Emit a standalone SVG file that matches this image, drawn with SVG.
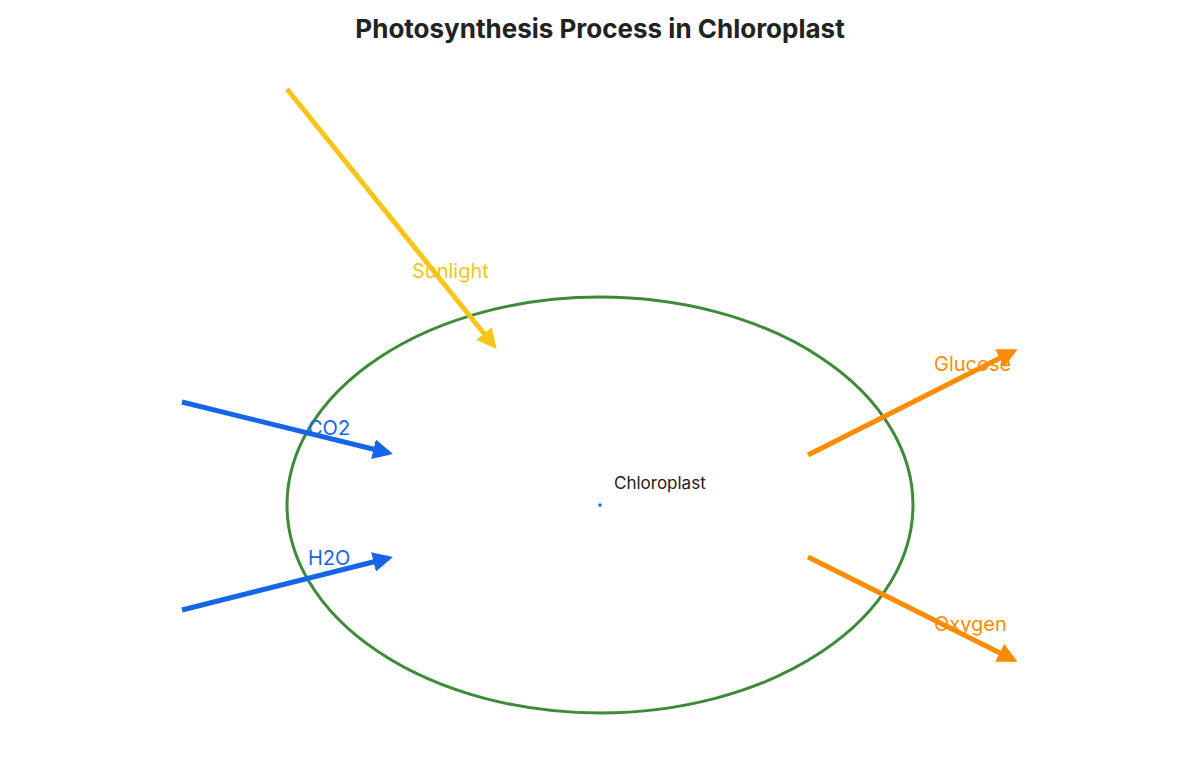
<svg xmlns="http://www.w3.org/2000/svg" width="1200" height="763" viewBox="0 0 1200 763">
<style>
text{font-family:Inter,"Open Sans",sans-serif}
.t{font-size:26px;font-weight:bold;fill:#222}
.l{font-size:20px}
.c{stroke-width:5;fill:none}
</style>
<defs>
<marker id="ay" markerWidth="5" markerHeight="5" refX="3.2" refY="2" orient="auto" markerUnits="strokeWidth"><path d="M0,0 L4,2 L0,4 z" fill="#f5c518"/></marker>
<marker id="ab" markerWidth="5" markerHeight="5" refX="3.2" refY="2" orient="auto" markerUnits="strokeWidth"><path d="M0,0 L4,2 L0,4 z" fill="#1565e8"/></marker>
<marker id="ao" markerWidth="5" markerHeight="5" refX="3.2" refY="2" orient="auto" markerUnits="strokeWidth"><path d="M0,0 L4,2 L0,4 z" fill="#fb8c00"/></marker>
</defs>
<rect width="1200" height="763" fill="#fff"/>
<text class="t" x="600" y="38" text-anchor="middle">Photosynthesis Process in Chloroplast</text>
<g id="chloroplast">
<ellipse cx="600" cy="505" rx="313" ry="208" fill="none" stroke="#3d8b37" stroke-width="3"/>
<circle cx="600" cy="505" r="1.8" fill="#1565e8"/>
<text x="614" y="489" font-size="17" fill="#222">Chloroplast</text>
</g>
<g id="connectors">
<line class="c" x1="287" y1="89" x2="494" y2="346" stroke="#f5c518" marker-end="url(#ay)"/>
<line class="c" x1="182" y1="402" x2="389" y2="453" stroke="#1565e8" marker-end="url(#ab)"/>
<line class="c" x1="182" y1="610" x2="389" y2="558" stroke="#1565e8" marker-end="url(#ab)"/>
<line class="c" x1="808" y1="455" x2="1014" y2="351" stroke="#fb8c00" marker-end="url(#ao)"/>
<line class="c" x1="808" y1="557" x2="1014" y2="660" stroke="#fb8c00" marker-end="url(#ao)"/>
<text class="l" x="412" y="278" fill="#f5c518">Sunlight</text>
<text class="l" x="308" y="435" fill="#1565e8">CO2</text>
<text class="l" x="308" y="565" fill="#1565e8">H2O</text>
<text class="l" x="934" y="371" fill="#fb8c00">Glucose</text>
<text class="l" x="934" y="631" fill="#fb8c00">Oxygen</text>
</g>
</svg>
